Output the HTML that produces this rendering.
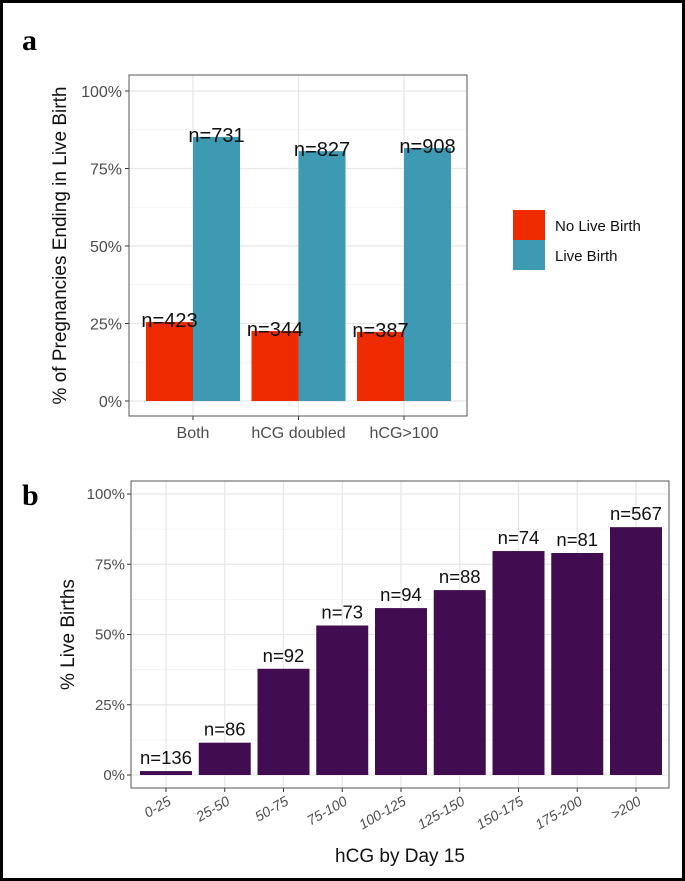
<!DOCTYPE html>
<html><head><meta charset="utf-8"><style>
html,body{margin:0;padding:0;background:#fff}
svg{display:block;font-family:"Liberation Sans",Arial,sans-serif}
</style></head><body>
<svg id="fig" width="685" height="881" viewBox="0 0 685 881">
<rect x="1.5" y="1.5" width="682" height="878" fill="#fff" stroke="#000" stroke-width="3"/>
<text x="22" y="50" font-family="Liberation Serif,serif" font-weight="bold" font-size="30">a</text>
<text x="22" y="505" font-family="Liberation Serif,serif" font-weight="bold" font-size="30">b</text>
<g id="pa"></g>
<g id="pb"></g>
</svg>
<script>
const aCats=["Both","hCG doubled","hCG>100"];
const aNoLive=[25.5,22.6,22.3];
const aLive=[85.2,80.6,81.6];
const aNoLiveN=["n=423","n=344","n=387"];
const aLiveN=["n=731","n=827","n=908"];
const aTicks=[0,25,50,75,100];
const bCats=["0-25","25-50","50-75","75-100","100-125","125-150","150-175","175-200",">200"];
const bVals=[1.4,11.5,37.8,53.2,59.4,65.8,79.7,79.0,88.2];
const bN=["n=136","n=86","n=92","n=73","n=94","n=88","n=74","n=81","n=567"];
const bTicks=[0,25,50,75,100];
const NS="http://www.w3.org/2000/svg";
function mk(p,t,a,txt){const e=document.createElementNS(NS,t);for(const k in a)e.setAttribute(k,a[k]);if(txt!==undefined)e.textContent=txt;p.appendChild(e);return e;}

// Panel A
(function(){
const g=document.getElementById('pa');
const L=129,R=467,T=75,B=416,y0=401,y100=91;
const y=v=>y0-(y0-y100)*v/100;
const x=i=>193+i*105.5;
const bw=47;
const bg=mk(g,'rect',{x:L,y:T,width:R-L,height:B-T,fill:'#fff'});


for(let i=0;i<aTicks.length;i++){
 const gl=mk(g,'line',{x1:L,x2:R,y1:y(aTicks[i]),y2:y(aTicks[i]),stroke:'#e6e6e6','stroke-width':1.2});
 
 
 if(i<aTicks.length-1){const m=mk(g,'line',{x1:L,x2:R,y1:y(aTicks[i]+12.5),y2:y(aTicks[i]+12.5),stroke:'#f2f2f2','stroke-width':0.8});
 
 }
 const tk=mk(g,'line',{x1:L-4,x2:L,y1:y(aTicks[i]),y2:y(aTicks[i]),stroke:'#333'});
 
 
 const tl=mk(g,'text',{x:L-7,y:y(aTicks[i])+6,'text-anchor':'end','font-size':16,fill:'#4d4d4d'},aTicks[i]+'%');
 
 
}
for(let i=0;i<aCats.length;i++){
 const vl=mk(g,'line',{x1:x(i),x2:x(i),y1:T,y2:B,stroke:'#e6e6e6','stroke-width':1.2});
 
 
}
for(let i=0;i<aCats.length;i++){
 const r=mk(g,'rect',{x:x(i)-bw,y:y(aNoLive[i]),width:bw,height:y0-y(aNoLive[i]),fill:'#EE2A00'});
 
 
 const b=mk(g,'rect',{x:x(i),y:y(aLive[i]),width:bw,height:y0-y(aLive[i]),fill:'#3E9AB3'});
 
 
 const t1=mk(g,'text',{x:x(i)-bw/2,y:y(aNoLive[i])+5,'text-anchor':'middle','font-size':20,fill:'#111'},aNoLiveN[i]);
 
 
 const t2=mk(g,'text',{x:x(i)+bw/2,y:y(aLive[i])+5,'text-anchor':'middle','font-size':20,fill:'#111'},aLiveN[i]);
 
 
 const tk=mk(g,'line',{x1:x(i),x2:x(i),y1:B,y2:B+4,stroke:'#333'});
 
 
 const xl=mk(g,'text',{x:x(i),y:438,'text-anchor':'middle','font-size':16,fill:'#4d4d4d'},aCats[i]);
 
 
}
const fr=mk(g,'rect',{x:L,y:T,width:R-L,height:B-T,fill:'none',stroke:'#555','stroke-width':1});


const yt=mk(g,'text',{x:0,y:0,transform:'translate(66,'+((T+B)/2)+') rotate(-90)','text-anchor':'middle','font-size':19,fill:'#111'},'% of Pregnancies Ending in Live Birth');


const lr=mk(g,'rect',{x:513,y:210,width:32,height:30,fill:'#EE2A00'});


const lb=mk(g,'rect',{x:513,y:240,width:32,height:30,fill:'#3E9AB3'});


const lt1=mk(g,'text',{x:555,y:231,'font-size':15,fill:'#111'},'No Live Birth');


const lt2=mk(g,'text',{x:555,y:261,'font-size':15,fill:'#111'},'Live Birth');


})();

// Panel B
(function(){
const g=document.getElementById('pb');
const L=131,R=669,T=481,B=788,y0=775,y100=494;
const y=v=>y0-(y0-y100)*v/100;
const x=i=>166+i*58.75;
const bw=52;
for(let i=0;i<bTicks.length;i++){
 const gl=mk(g,'line',{x1:L,x2:R,y1:y(bTicks[i]),y2:y(bTicks[i]),stroke:'#e6e6e6','stroke-width':1.2});
 
 
 if(i<bTicks.length-1){const m=mk(g,'line',{x1:L,x2:R,y1:y(bTicks[i]+12.5),y2:y(bTicks[i]+12.5),stroke:'#f2f2f2','stroke-width':0.8});
 
 }
 const tk=mk(g,'line',{x1:L-4,x2:L,y1:y(bTicks[i]),y2:y(bTicks[i]),stroke:'#333'});
 
 
 const tl=mk(g,'text',{x:L-6,y:y(bTicks[i])+5,'text-anchor':'end','font-size':15,fill:'#4d4d4d'},bTicks[i]+'%');
 
 
}
for(let i=0;i<bCats.length;i++){
 const vl=mk(g,'line',{x1:x(i),x2:x(i),y1:T,y2:B,stroke:'#e6e6e6','stroke-width':1.2});
 
 
}
for(let i=0;i<bCats.length;i++){
 const r=mk(g,'rect',{x:x(i)-bw/2,y:y(bVals[i]),width:bw,height:y0-y(bVals[i]),fill:'#420D50'});
 
 
 const t=mk(g,'text',{x:x(i),y:y(bVals[i])-7,'text-anchor':'middle','font-size':18.5,fill:'#111'},bN[i]);
 
 
 const tk=mk(g,'line',{x1:x(i),x2:x(i),y1:B,y2:B+4,stroke:'#333'});
 
 
 const xl=mk(g,'text',{x:0,y:0,transform:'translate('+(x(i)+6)+',804) rotate(-30)','text-anchor':'end','font-size':14,'font-style':'italic',fill:'#4d4d4d'},bCats[i]);
 
 
}
const fr=mk(g,'rect',{x:L,y:T,width:R-L,height:B-T,fill:'none',stroke:'#555','stroke-width':1});


const yt=mk(g,'text',{x:0,y:0,transform:'translate(74,'+((T+B)/2)+') rotate(-90)','text-anchor':'middle','font-size':19,fill:'#111'},'% Live Births');


const xt=mk(g,'text',{x:400,y:862,'text-anchor':'middle','font-size':19,fill:'#111'},'hCG by Day 15');


})();
</script>
</body></html>
